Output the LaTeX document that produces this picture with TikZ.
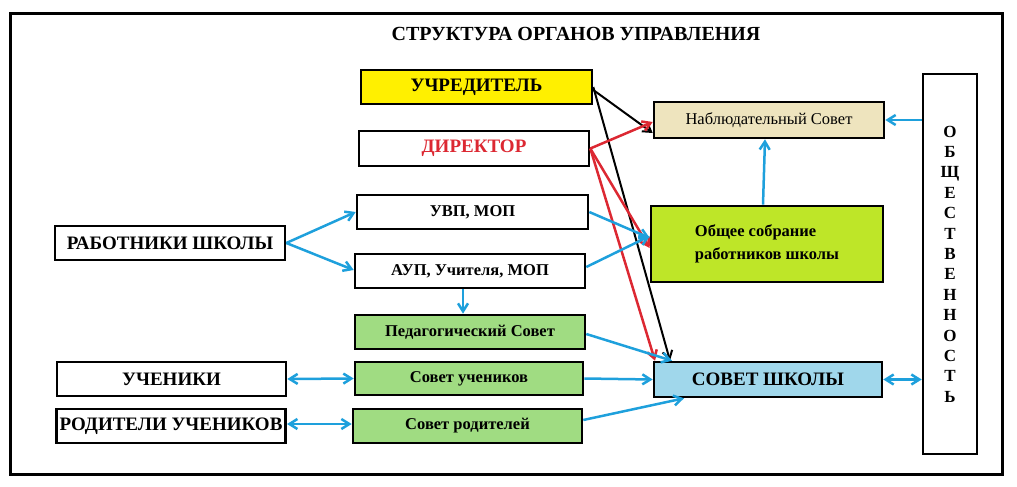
\documentclass[tikz,border=0pt]{standalone}
\usepackage{fontspec}
\setmainfont{Liberation Serif}
\usetikzlibrary{arrows.meta}
\definecolor{bl}{RGB}{30,160,220}
\definecolor{yel}{RGB}{255,240,0}
\definecolor{pg}{RGB}{160,220,130}
\definecolor{lime}{RGB}{190,230,40}
\definecolor{beige}{RGB}{238,228,190}
\definecolor{lb}{RGB}{160,215,235}
\definecolor{rd}{RGB}{220,40,50}
\begin{document}
\begin{tikzpicture}[x=1pt,y=-1pt,
 box/.style={draw=black,line width=2.6pt,font=\bfseries\fontsize{19}{21}\selectfont},
 sm/.style={font=\bfseries\fontsize{16.5}{19}\selectfont},
 ba/.style={-{Straight Barb[length=8pt,width=10pt]},bl,line width=2.5pt},
 bb/.style={{Straight Barb[length=8pt,width=10pt]}-{Straight Barb[length=8pt,width=10pt]},bl,line width=2.5pt},
 ka/.style={-{Straight Barb[length=8pt,width=10pt]},black,line width=2pt},
 ra/.style={-{Straight Barb[length=8pt,width=10pt]},rd,line width=2.5pt}]
\useasboundingbox (0,0) rectangle (1017,487);
\draw[line width=3pt] (10,14) rectangle (1002,474);
\node[font=\bfseries\fontsize{20}{22}\selectfont] (t) at (576,34) {СТРУКТУРА ОРГАНОВ УПРАВЛЕНИЯ};
\node[box,fill=yel,minimum width=231,minimum height=34] (u) at (476.5,87) {УЧРЕДИТЕЛЬ};
\node[box,text=rd,minimum width=230,minimum height=35] (d) at (474,148.5) {ДИРЕКТОР};
\node[box,sm,minimum width=231,minimum height=34] (uvp) at (472.5,212) {УВП, МОП};
\node[box,sm,minimum width=230,minimum height=34] (aup) at (470,271) {АУП, Учителя, МОП};
\node[box,sm,fill=pg,minimum width=230,minimum height=34] (ps) at (470,332) {Педагогический Совет};
\node[box,sm,fill=pg,minimum width=228,minimum height=33] (su) at (469,378.5) {Совет учеников};
\node[box,sm,fill=pg,minimum width=229,minimum height=34] (sr) at (467.5,426) {Совет родителей};
\node[box,minimum width=230,minimum height=34] (rs) at (170,243) {РАБОТНИКИ ШКОЛЫ};
\node[box,minimum width=229,minimum height=34] (uch) at (171.5,379) {УЧЕНИКИ};
\node[box,minimum width=228,minimum height=34] (rod) at (171,426) {РОДИТЕЛИ УЧЕНИКОВ};
\node[box,sm,fill=beige,minimum width=230,minimum height=36,font=\fontsize{16.5}{19}\selectfont] (ns) at (769,120) {Наблюдательный Совет};
\node[box,sm,fill=lime,minimum width=232,minimum height=76,align=left,font=\bfseries\fontsize{16.5}{23}\selectfont] (os) at (767,244) {Общее собрание\\работников школы};
\node[box,fill=lb,minimum width=228,minimum height=35] (ss) at (768,379.5) {СОВЕТ ШКОЛЫ};
\node[box,minimum width=54,minimum height=380,align=center,font=\bfseries\fontsize{17}{20.4}\selectfont] (ob) at (950,264) {О\\Б\\Щ\\Е\\С\\Т\\В\\Е\\Н\\Н\\О\\С\\Т\\Ь};
% black
\draw[ka] ([yshift=-3]u.east) -- ([yshift=-13]ns.west);
\draw[ka] (u.east) -- ([xshift=-98]ss.north);
% red
\draw[ra] (d.east) -- ([yshift=-2]ns.west);
\draw[ra] (d.east) -- ([yshift=-4]os.west);
\draw[ra] (d.east) -- ([xshift=-113]ss.north);
% blue
\draw[ba] (rs.east) -- (uvp.west);
\draw[ba] (rs.east) -- ([yshift=1]aup.west);
\draw[ba] (uvp.east) -- ([yshift=6]os.west);
\draw[ba] ([yshift=4]aup.east) -- ([yshift=8]os.west);
\draw[ba] ([xshift=-7]aup.south) -- ([xshift=-7]ps.north);
\draw[ba] ([yshift=-2]ps.east) -- ([xshift=-96]ss.north);
\draw[ba] (su.east) -- (ss.west);
\draw[ba] ([yshift=6]sr.east) -- ([xshift=-84]ss.south);
\draw[bb] (uch.east) -- (su.west);
\draw[bb] ([yshift=2]rod.east) -- ([yshift=2]sr.west);
\draw[ba] ([xshift=-4]os.north) -- ([xshift=-4]ns.south);
\draw[ba] (ob.west |- ns.east) -- (ns.east);
\draw[bb] (ss.east) -- (ob.west |- ss.east);
\end{tikzpicture}
\end{document}
